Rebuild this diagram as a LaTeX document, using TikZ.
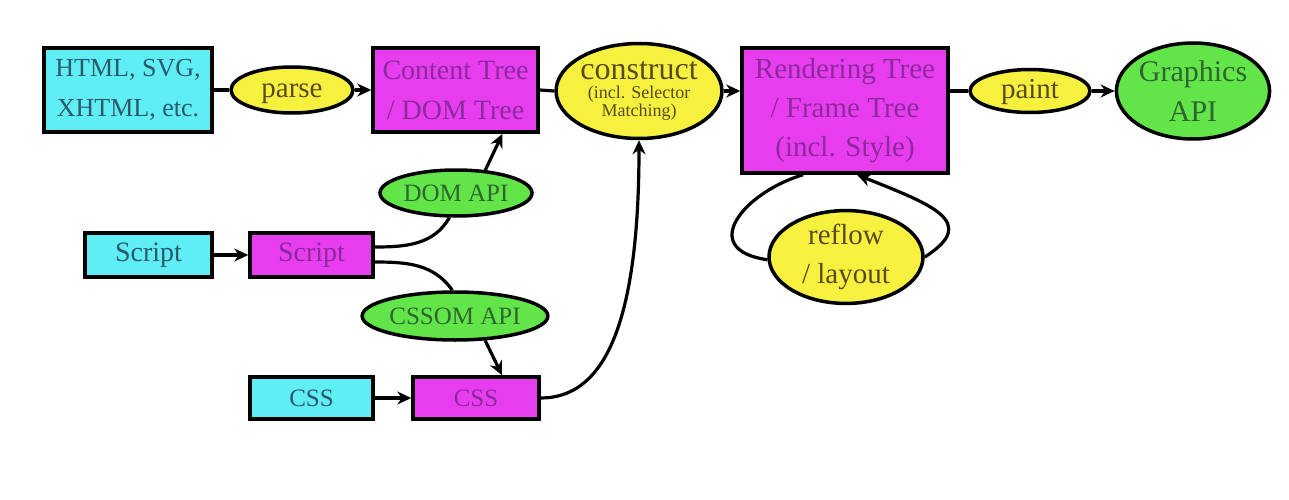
\documentclass[tikz,border=0pt]{standalone}
\usepackage{fontspec}
\setmainfont{Liberation Serif}
\usetikzlibrary{shapes.geometric,arrows.meta,calc}
\definecolor{cyanf}{HTML}{5EEEF4}
\definecolor{magf}{HTML}{E83DEF}
\definecolor{yelf}{HTML}{F6F03E}
\definecolor{grnf}{HTML}{62E548}
\definecolor{cyant}{HTML}{2C5A6C}
\definecolor{magt}{HTML}{8B2A9E}
\definecolor{yelt}{HTML}{5B4A1C}
\definecolor{grnt}{HTML}{2F6630}
\newcommand\fsz[2]{\fontsize{#1}{#2}\selectfont}
\tikzset{
  shp/.style={draw=black, line width=3.5pt, inner sep=0pt, align=center},
  cbox/.style={shp, rectangle, fill=cyanf, text=cyant},
  mbox/.style={shp, rectangle, fill=magf, text=magt},
  yoval/.style={shp, ellipse, fill=yelf, text=yelt},
  goval/.style={shp, ellipse, fill=grnf, text=grnt},
  conn/.style={line width=3.2pt, draw=black},
  arr/.style={conn, -{Stealth[length=14pt,width=13pt]}}
}
\begin{document}
\begin{tikzpicture}[x=1pt,y=1pt]
\useasboundingbox[fill=white] (0,0) rectangle (1289,-500);
% top row
\node[cbox, minimum width=168pt, minimum height=84pt, font=\fsz{26}{40}] (html) at (128,-90) {HTML, SVG,\\XHTML, etc.};
\node[yoval, minimum width=122pt, minimum height=46pt, font=\fsz{29}{34}] (parse) at (292,-90) {\rule{0pt}{21pt}parse};
\node[mbox, minimum width=165pt, minimum height=84pt, font=\fsz{28}{40}] (content) at (455.5,-90) {Content Tree\\/ DOM Tree};
\node[yoval, minimum width=148pt, minimum height=95pt, font=\fsz{18}{15}] (construct) at (639,-91) {{\fsz{32}{32}construct}\\[4pt](incl. Selector\\Matching)};
\node[mbox, minimum width=206pt, minimum height=125pt, font=\fsz{29}{39}] (render) at (845,-110.5) {Rendering Tree\\/ Frame Tree\\(incl. Style)};
\node[yoval, minimum width=120pt, minimum height=43pt, font=\fsz{29}{34}] (paint) at (1030,-91) {\rule{0pt}{21pt}paint};
\node[goval, minimum width=150pt, minimum height=96pt, font=\fsz{30}{40}] (graphics) at (1193,-91) {Graphics\\API};
% middle / lower
\node[goval, minimum width=152pt, minimum height=46pt, font=\fsz{25}{30}] (domapi) at (456,-193) {DOM API};
\node[cbox, minimum width=127pt, minimum height=44pt, font=\fsz{28}{32}] (scriptc) at (148.5,-255) {Script};
\node[mbox, minimum width=123pt, minimum height=44pt, font=\fsz{28}{32}] (scriptm) at (311.5,-255) {Script};
\node[goval, minimum width=180pt, minimum height=48pt, font=\fsz{25}{30}] (cssomapi) at (455,-316) {CSSOM API};
\node[cbox, minimum width=123pt, minimum height=42pt, font=\fsz{25}{30}] (cssc) at (311.5,-398) {CSS};
\node[mbox, minimum width=126pt, minimum height=42pt, font=\fsz{25}{30}] (cssm) at (476,-398) {CSS};
\node[yoval, minimum width=154pt, minimum height=90pt, font=\fsz{29}{39}] (reflow) at (846,-257) {reflow\\/ layout};
% connectors
\draw[conn] (html.east) -- (parse.west);
\draw[arr] (parse.east) -- (content.west);
\draw[conn] (content.east) -- (construct.west);
\draw[arr] (construct.east) -- (construct.east -| render.west);
\draw[conn] (render.east |- paint.west) -- (paint.west);
\draw[arr] (paint.east) -- (graphics.west);
\draw[arr] (scriptc.east) -- (scriptm.west);
\draw[arr] (cssc.east) -- (cssm.west);
\draw[conn] ($(scriptm.east)+(0,8)$) to[out=0,in=-120] (domapi.-105);
\draw[arr] (domapi.38) -- ($(content.south)+(47,0)$);
\draw[conn] ($(scriptm.east)+(0,-7)$) to[out=0,in=125] (cssomapi.96);
\draw[arr] (cssomapi.-39) -- ($(cssm.north)+(26,0)$);
\draw[arr] (cssm.east) .. controls +(61,0) and +(0,-190) .. (construct.south);
\draw[conn] ($(render.south)+(-42,0)$) .. controls +(-60,-18) and +(-70,10) .. (reflow.182);
\draw[arr] (reflow.east) .. controls +(55,35) and +(75,-30) .. ($(render.south)+(12,0)$);
\end{tikzpicture}
\end{document}
